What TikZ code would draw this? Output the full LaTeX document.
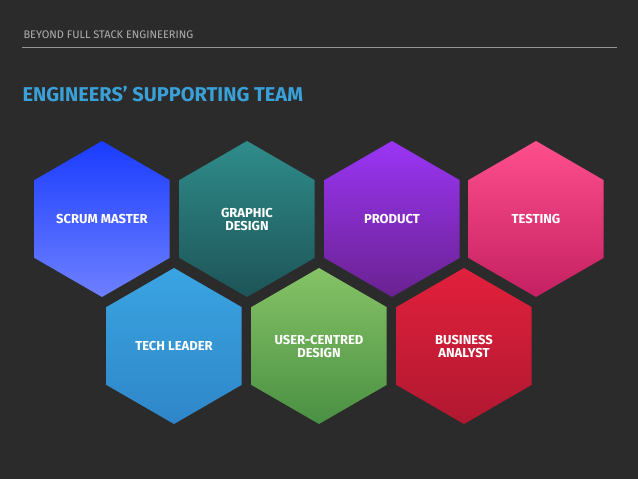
\documentclass[tikz,border=0pt]{standalone}
\usepackage{fontspec}
\setmainfont{Fira Sans}
\begin{document}
\begin{tikzpicture}[x=1pt,y=-1pt,
  lbl/.style={text=white,font=\bfseries\fontsize{13}{13}\selectfont,align=center}]
\definecolor{bg}{HTML}{2B2B2B}\definecolor{hd}{HTML}{AFAFAF}\definecolor{ln}{HTML}{969696}\definecolor{tt}{HTML}{3AA0D8}
\fill[bg] (0,0) rectangle (638,479);
\useasboundingbox (0,0) rectangle (638,479);
\node[anchor=west,text=hd,font=\fontsize{11}{11}\selectfont] (hdr) at (20,35) {BEYOND FULL STACK ENGINEERING};
\draw[ln,line width=0.8pt] (22,47) -- (617,47);
\node[anchor=west,text=tt,font=\bfseries\fontsize{20}{20}\selectfont] (ttl) at (19,94) {ENGINEERS’ SUPPORTING TEAM};
\newcommand{\hexa}[6]{%
  \shade[top color=#4,bottom color=#5] (#1,#2-78) -- ++(67.5,39) -- ++(0,78) -- ++(-67.5,39) -- ++(-67.5,-39) -- ++(0,-78) -- cycle;
  \node[lbl] (#3) at (#1,#2) {#6};}
\definecolor{c1a}{HTML}{1A3CFF}\definecolor{c1b}{HTML}{6E80FF}
\definecolor{c2a}{HTML}{2F8C8A}\definecolor{c2b}{HTML}{1D5458}
\definecolor{c3a}{HTML}{9A35F5}\definecolor{c3b}{HTML}{6A2290}
\definecolor{c4a}{HTML}{FF4F8C}\definecolor{c4b}{HTML}{C42062}
\definecolor{c5a}{HTML}{3AA4E2}\definecolor{c5b}{HTML}{2F86C8}
\definecolor{c6a}{HTML}{86C366}\definecolor{c6b}{HTML}{4A9043}
\definecolor{c7a}{HTML}{E2203C}\definecolor{c7b}{HTML}{B01830}
\hexa{102}{219}{sm}{c1a}{c1b}{SCRUM MASTER}
\hexa{247}{219}{gd}{c2a}{c2b}{GRAPHIC\\DESIGN}
\hexa{392}{219}{pr}{c3a}{c3b}{PRODUCT}
\hexa{536}{219}{te}{c4a}{c4b}{TESTING}
\hexa{174}{346}{tl}{c5a}{c5b}{TECH LEADER}
\hexa{319}{346}{uc}{c6a}{c6b}{USER-CENTRED\\DESIGN}
\hexa{464}{346}{ba}{c7a}{c7b}{BUSINESS\\ANALYST}
\end{tikzpicture}
\end{document}
